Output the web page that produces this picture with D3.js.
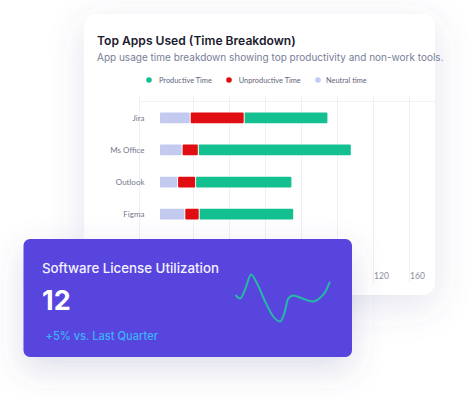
<!DOCTYPE html>
<html><head><meta charset="utf-8">
<script src="https://cdn.jsdelivr.net/npm/d3@7"></script>
<style>html,body{margin:0;padding:0;background:#fff;overflow:hidden}svg{display:block}</style>
</head><body><svg id="c" width="474" height="404"></svg>
<script>
const apps = ["Jira","Ms Office","Outlook","Figma"];
const neutral = [33,24,19,27];
const unproductive = [60,18,20,16];
const productive = [93,170,107,105];
const seriesKeys = ["Neutral time","Unproductive Time","Productive Time"];
const legendOrder = ["Productive Time","Unproductive Time","Neutral time"];
const seriesColors = ["#c2caf0","#e00d12","#14c08f"];
const gridTicks = [-140,-80,-40,0,40,80,120,160];
const labelTicks = [120,160];
const sparkT = [0,4,9,15,21,29,37,44,48,52,57,66,76,84,89,93];
const sparkV = [26,23,32,47,38,20,5,0,8,23,26,23,20,24,30,39];

const svg = d3.select("#c");
const defs = svg.append("defs");
const sh = (id,dy,b,o)=>{const f=defs.append("filter").attr("id",id).attr("x","-30%").attr("y","-30%").attr("width","160%").attr("height","170%");
  f.append("feDropShadow").attr("dx",0).attr("dy",dy).attr("stdDeviation",b).attr("flood-color","#5c5c96").attr("flood-opacity",o);};
sh("s1",10,18,.16); sh("s2",12,16,.2);

// main card
svg.append("rect").attr("x",84).attr("y",14).attr("width",351).attr("height",281).attr("rx",13).attr("fill","#fff").attr("filter","url(#s1)");

const font="Inter, sans-serif", lato="Lato, sans-serif";
svg.append("text").attr("x",97).attr("y",44.5).attr("font-family",font).attr("font-weight",600).attr("font-size",12.1).attr("fill","#1b1b2e").text("Top Apps Used (Time Breakdown)");
svg.append("text").attr("x",97).attr("y",61).attr("font-family",font).attr("font-size",10).attr("fill","#777e96").text("App usage time breakdown showing top productivity and non-work tools.");

// legend
const legendX=[149,229,318];
const color=d3.scaleOrdinal(seriesKeys,seriesColors);
const lg=svg.append("g").selectAll("g").data(legendOrder).join("g").attr("transform",(d,i)=>`translate(${legendX[i]},80)`);
lg.append("circle").attr("r",2.8).attr("fill",d=>color(d));
lg.append("text").attr("x",(d,i)=>[10,9.7,8][i]).attr("y",2.6).attr("font-family",lato).attr("font-size",7.4).attr("fill","#62657a").text(d=>d);

// scales
const axisScale=d3.scaleLinear().domain([0,160]).range([265,409]);
const barScale=d3.scaleLinear().domain([0,160]).range([160,304]);
const y=d3.scaleBand().domain(apps).range([102,230]).paddingInner(.665).paddingOuter(.33);

// gridlines + axis
const axis=d3.axisBottom(axisScale).tickValues(gridTicks).tickSize(-186).tickPadding(0).tickFormat(d=>labelTicks.includes(d)?d:"");
const ga=svg.append("g").attr("transform","translate(0,288)").call(axis);
ga.select(".domain").remove();
ga.selectAll("line").attr("stroke","#eef0f6").attr("transform","translate(0,-6)");
ga.selectAll("text").attr("font-family",lato).attr("font-size",8.5).attr("fill","#8a8d9c").attr("dx",8).attr("dy",-9);
svg.append("line").attr("x1",139).attr("x2",435).attr("y1",101.5).attr("y2",101.5).attr("stroke","#f1f2f7");

// category labels
svg.append("g").selectAll("text").data(apps).join("text")
  .attr("x",144.5).attr("y",d=>y(d)+y.bandwidth()/2+2.8).attr("text-anchor","end")
  .attr("font-family",lato).attr("font-size",8).attr("fill","#74778c").text(d=>d);

// stacked bars
const table=apps.map((a,i)=>({app:a,"Neutral time":neutral[i],"Unproductive Time":unproductive[i],"Productive Time":productive[i]}));
const stack=d3.stack().keys(seriesKeys)(table);
svg.append("g").selectAll("g").data(stack).join("g").attr("fill",s=>color(s.key))
  .selectAll("rect").data(s=>s).join("rect")
  .attr("x",d=>barScale(d[0])+(d[0]>0?1:0))
  .attr("y",d=>y(d.data.app))
  .attr("width",d=>barScale(d[1])-barScale(d[0])-(d[0]>0?1:0))
  .attr("height",y.bandwidth()).attr("rx",1);

// KPI card
svg.append("rect").attr("x",23.5).attr("y",239).attr("width",328.5).attr("height",118).attr("rx",6.5).attr("fill","#5944de").attr("filter","url(#s2)");
svg.append("text").attr("x",42).attr("y",273).attr("font-family",font).attr("font-weight",500).attr("font-size",13.3).attr("fill","#f3f2ff").text("Software License Utilization");
svg.append("text").attr("x",42).attr("y",310).attr("font-family",font).attr("font-weight",700).attr("font-size",27).attr("fill","#fff").text("12");
svg.append("text").attr("x",45.5).attr("y",340).attr("font-family",font).attr("font-weight",500).attr("font-size",11.1).attr("fill","#3cb4fb").text("+5% vs. Last Quarter");

// sparkline
const sx=d3.scaleLinear().domain([0,93]).range([236,329.5]);
const sy=d3.scaleLinear().domain([0,47]).range([321.5,274.5]);
svg.append("path").attr("d",d3.line().x((d,i)=>sx(sparkT[i])).y(d=>sy(d)).curve(d3.curveMonotoneX)(sparkV))
  .attr("fill","none").attr("stroke","#25b9a8").attr("stroke-width",2).attr("stroke-linecap","round");
</script></body></html>
